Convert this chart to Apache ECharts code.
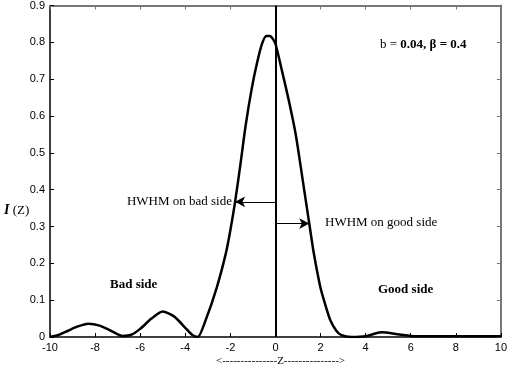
<!DOCTYPE html>
<html>
<head>
<meta charset="utf-8">
<script src="https://cdn.jsdelivr.net/npm/echarts@6/dist/echarts.min.js"></script>
<style>
  html, body { margin: 0; padding: 0; background: #fff; }
  #chart { width: 510px; height: 369px; }
</style>
</head>
<body>
<div id="chart"></div>
<script>
// curve: z positions and intensity
var zValues = [-10, -9.6, -9.2, -8.8, -8.3, -7.8, -7.3, -6.8, -6.4, -6.0, -5.5, -5.0, -4.5, -4.0, -3.7, -3.45,
  -3.1, -2.6, -2.2, -2.0, -1.79, -1.55, -1.32, -1.05, -0.82, -0.6, -0.4, -0.25, -0.1, 0.02,
  0.3, 0.6, 0.9, 1.2, 1.5, 1.7, 1.99, 2.2, 2.43, 2.7, 2.93, 3.37, 4.0, 4.7, 5.5, 6.2, 7.0, 10];
var intensity = [0.0, 0.006, 0.017, 0.028, 0.036, 0.031, 0.017, 0.003, 0.006, 0.022, 0.050, 0.069, 0.056, 0.025, 0.006, 0.0,
  0.045, 0.135, 0.227, 0.29, 0.367, 0.47, 0.575, 0.675, 0.743, 0.795, 0.817, 0.817, 0.808, 0.792,
  0.72, 0.64, 0.55, 0.43, 0.308, 0.228, 0.136, 0.09, 0.046, 0.017, 0.005, 0.0, 0.002, 0.013, 0.007, 0.002, 0.002, 0.002];
var xTicks = [-10, -8, -6, -4, -2, 0, 2, 4, 6, 8, 10];
var yTicks = [0, 0.1, 0.2, 0.3, 0.4, 0.5, 0.6, 0.7, 0.8, 0.9];
// HWHM arrows: [height, end z]
var hwhmBad = [0.367, -1.79];
var hwhmGood = [0.308, 1.5];

var chart = echarts.init(document.getElementById('chart'));

var tickFont = {
  color: '#000',
  fontFamily: 'Liberation Sans, Arial',
  fontSize: 11
};

var curve = zValues.map(function (z, i) { return [z, intensity[i]]; });

var options = {
  animation: false,
  grid: { left: 50, right: 7, top: 5, bottom: 32 },
  xAxis: [{
    type: 'value',
    min: xTicks[0],
    max: xTicks[xTicks.length - 1],
    interval: 2,
    axisLine: { show: true, onZero: false, lineStyle: { color: '#000', width: 1.5 } },
    axisTick: { inside: true, length: 4, lineStyle: { color: '#000' } },
    axisLabel: Object.assign({ margin: 5 }, tickFont),
    splitLine: { show: false }
  }, {
    type: 'value',
    position: 'top',
    min: xTicks[0],
    max: xTicks[xTicks.length - 1],
    interval: 2,
    axisLine: { show: true, onZero: false, lineStyle: { color: '#777', width: 2 } },
    axisTick: { show: true, inside: true, length: 4, lineStyle: { color: '#777' } },
    axisLabel: { show: false },
    splitLine: { show: false }
  }],
  yAxis: [{
    type: 'value',
    min: yTicks[0],
    max: yTicks[yTicks.length - 1],
    interval: 0.1,
    axisLine: { show: true, onZero: false, lineStyle: { color: '#000', width: 1.5 } },
    axisTick: { show: true, inside: true, length: 4, lineStyle: { color: '#000' } },
    axisLabel: Object.assign({ margin: 5, formatter: function (v) { return v === 0 ? '0' : v.toFixed(1); } }, tickFont),
    splitLine: { show: false }
  }, {
    type: 'value',
    position: 'right',
    min: yTicks[0],
    max: yTicks[yTicks.length - 1],
    interval: 0.1,
    axisLine: { show: true, onZero: false, lineStyle: { color: '#777', width: 2 } },
    axisTick: { show: true, inside: true, length: 4, lineStyle: { color: '#777' } },
    axisLabel: { show: false },
    splitLine: { show: false }
  }],
  series: [{
    type: 'line',
    data: curve,
    smooth: 0.25,
    showSymbol: false,
    lineStyle: { color: '#000', width: 2.5 },
    markLine: {
      silent: true,
      symbol: ['none', 'none'],
      label: { show: false },
      data: [
        [{ coord: [0, 0], lineStyle: { color: '#000', width: 2, type: 'solid' } }, { coord: [0, 0.9] }],
        [{ coord: [0, hwhmBad[0]], symbol: 'none', lineStyle: { color: '#000', width: 1, type: 'solid' } },
         { coord: [hwhmBad[1], hwhmBad[0]], symbol: 'arrow', symbolSize: [8, 10] }],
        [{ coord: [0, hwhmGood[0]], symbol: 'none', lineStyle: { color: '#000', width: 1, type: 'solid' } },
         { coord: [hwhmGood[1], hwhmGood[0]], symbol: 'arrow', symbolSize: [8, 10] }]
      ]
    }
  }],
  graphic: [
    { type: 'text', left: 4, top: 203, style: { text: '{i|I} {n|(Z)}', rich: {
        i: { fontStyle: 'italic', fontWeight: 'bold', fontFamily: 'Liberation Serif', fontSize: 14, verticalAlign: 'bottom' },
        n: { fontFamily: 'Liberation Serif', fontSize: 13, verticalAlign: 'bottom' } }, fill: '#000' } },
    { type: 'text', left: 380, top: 38, style: { text: 'b = {b|0.04, β = 0.4}', rich: { b: { fontWeight: 'bold', fontFamily: 'Liberation Serif', fontSize: 13 } }, fontFamily: 'Liberation Serif', fontSize: 13, fill: '#000' } },
    { type: 'text', right: 278, top: 195, style: { text: 'HWHM on bad side', fontFamily: 'Liberation Serif', fontSize: 13, fill: '#000' } },
    { type: 'text', left: 325, top: 216, style: { text: 'HWHM on good side', fontFamily: 'Liberation Serif', fontSize: 13, fill: '#000' } },
    { type: 'text', left: 110, top: 278, style: { text: 'Bad side', fontFamily: 'Liberation Serif', fontWeight: 'bold', fontSize: 13, fill: '#000' } },
    { type: 'text', left: 378, top: 283, style: { text: 'Good side', fontFamily: 'Liberation Serif', fontWeight: 'bold', fontSize: 13, fill: '#000' } },
    { type: 'text', left: 216, top: 356, style: { text: '<---------------Z--------------->', fontFamily: 'Liberation Serif', fontSize: 11, fill: '#000' } }
  ]
};

chart.setOption(options);
</script>
</body>
</html>
